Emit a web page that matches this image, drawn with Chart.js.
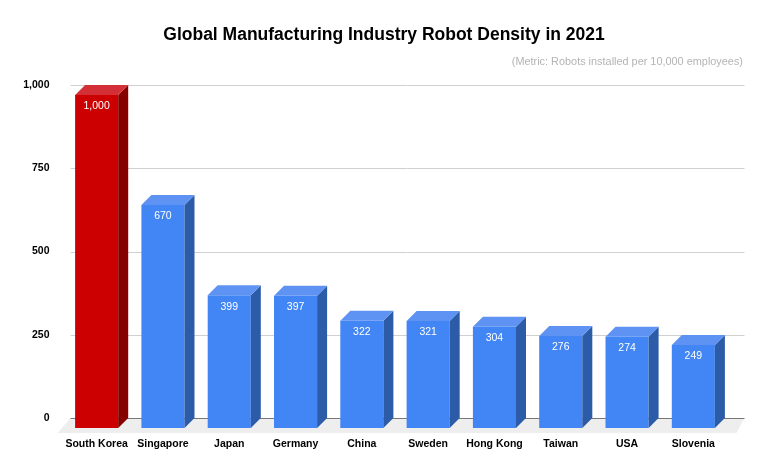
<!DOCTYPE html>
<html>
<head>
<meta charset="utf-8">
<title>Global Manufacturing Industry Robot Density in 2021</title>
<script src="https://cdn.jsdelivr.net/npm/chart.js@4"></script>
<style>
  html, body { margin: 0; padding: 0; background: #fff; }
  canvas { display: block; }
</style>
</head>
<body>
<canvas id="robotChart" width="768" height="474"></canvas>
<script>
const countries = ['South Korea', 'Singapore', 'Japan', 'Germany', 'China', 'Sweden', 'Hong Kong', 'Taiwan', 'USA', 'Slovenia'];
const density = [1000, 670, 399, 397, 322, 321, 304, 276, 274, 249];
const yTicks = [0, 250, 500, 750, 1000];

const FONT = '"Liberation Sans", Arial, sans-serif';
const DEPTH = 10;
const blue = { front: '#4285f4', top: '#5f93f3', side: '#2c5ba8' };
const red = { front: '#cc0000', top: '#d32f36', side: '#870000' };
const shade = i => (i === 0 ? red : blue);

const fmt = v => v.toLocaleString('en-US');

// floor and grid sit behind the bars
const backdrop = {
  id: 'backdrop',
  beforeDatasetsDraw(chart) {
    const { ctx, chartArea: a, scales: { y } } = chart;
    const zero = y.getPixelForValue(0);
    ctx.save();
    ctx.fillStyle = '#eeeeee';
    ctx.beginPath();
    ctx.moveTo(a.left + 7, zero);
    ctx.lineTo(a.right + 18, zero);
    ctx.lineTo(a.right + 10, zero + 15);
    ctx.lineTo(a.left - 6, zero + 15);
    ctx.closePath();
    ctx.fill();
    yTicks.forEach(v => {
      const py = Math.round(y.getPixelForValue(v)) + 0.5;
      ctx.strokeStyle = v === 0 ? '#777777' : '#d0d0d0';
      ctx.lineWidth = 1;
      ctx.beginPath();
      ctx.moveTo(a.left + 7, py);
      ctx.lineTo(a.right + 18, py);
      ctx.stroke();
    });
    ctx.restore();
    // front faces hang one depth below the grid plane
    ctx.save();
    ctx.translate(0, DEPTH);
  },
  afterDatasetsDraw(chart) {
    const { ctx } = chart;
    ctx.restore();
    ctx.save();
    chart.getDatasetMeta(0).data.forEach((bar, i) => {
      const l = bar.x - bar.width / 2, r = bar.x + bar.width / 2;
      const t = bar.y + DEPTH, b = bar.base + DEPTH;
      ctx.fillStyle = shade(i).side;
      ctx.beginPath();
      ctx.moveTo(r, t);
      ctx.lineTo(r + DEPTH, t - DEPTH);
      ctx.lineTo(r + DEPTH, b - DEPTH);
      ctx.lineTo(r, b);
      ctx.closePath();
      ctx.fill();
      ctx.fillStyle = shade(i).top;
      ctx.beginPath();
      ctx.moveTo(l, t);
      ctx.lineTo(l + DEPTH, t - DEPTH);
      ctx.lineTo(r + DEPTH, t - DEPTH);
      ctx.lineTo(r, t);
      ctx.closePath();
      ctx.fill();
      ctx.fillStyle = '#ffffff';
      ctx.font = '10.5px ' + FONT;
      ctx.textAlign = 'center';
      ctx.textBaseline = 'middle';
      ctx.fillText(fmt(density[i]), bar.x, t + 11.5);
    });
    ctx.fillStyle = '#b4b4b4';
    ctx.font = '10.9px ' + FONT;
    ctx.textAlign = 'right';
    ctx.textBaseline = 'middle';
    ctx.fillText('(Metric: Robots installed per 10,000 employees)', 743, 62);
    ctx.restore();
  }
};

new Chart(document.getElementById('robotChart').getContext('2d'), {
  type: 'bar',
  data: {
    labels: countries,
    datasets: [{
      data: density,
      backgroundColor: density.map((v, i) => shade(i).front),
      categoryPercentage: 1,
      barPercentage: 0.65
    }]
  },
  options: {
    responsive: false,
    animation: false,
    layout: { padding: 0 },
    plugins: {
      legend: { display: false },
      tooltip: { enabled: false },
      title: {
        display: true,
        text: 'Global Manufacturing Industry Robot Density in 2021',
        color: '#000000',
        font: { family: FONT, size: 17.5, weight: 'bold' },
        padding: { top: 25, bottom: 39 }
      }
    },
    scales: {
      x: {
        grid: { display: false },
        border: { display: false },
        afterFit(scale) { scale.height = 56; },
        ticks: {
          color: '#000000',
          font: { family: FONT, size: 10.5, weight: 'bold' },
          padding: 12,
          maxRotation: 0,
          autoSkip: false
        }
      },
      y: {
        min: 0,
        max: 1000,
        grid: { display: false },
        border: { display: false },
        afterFit(scale) { scale.width = 63.5; },
        afterBuildTicks(scale) { scale.ticks = yTicks.map(value => ({ value })); },
        ticks: {
          color: '#000000',
          font: { family: FONT, size: 10.5, weight: 'bold' },
          padding: 6,
          callback: v => fmt(v)
        }
      },
      // empty axis, only reserves the room on the right
      gutter: {
        position: 'right',
        grid: { display: false },
        border: { display: false },
        ticks: { display: false },
        afterFit(scale) { scale.width = 41.5; }
      }
    }
  },
  plugins: [backdrop]
});
</script>
</body>
</html>
